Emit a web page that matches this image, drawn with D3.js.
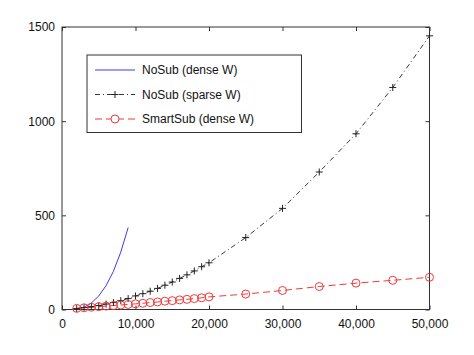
<!DOCTYPE html>
<html><head><meta charset="utf-8">
<script src="https://cdn.jsdelivr.net/npm/d3@7"></script>
<style>
html,body{margin:0;padding:0;background:#fff;}
svg{display:block;font-family:"Liberation Sans",Arial,Helvetica,sans-serif;}
</style></head>
<body><svg id="c" width="474" height="355"></svg>
<script>
// Data
const denseX = [2000,3000,4000,5000,6000,7000,8000,9000];
const denseY = [3,12,35,72,127,203,305,435];
const sparseX = [2000,3000,4000,5000,6000,7000,8000,9000,10000,11000,12000,13000,14000,15000,16000,17000,18000,19000,20000,25000,30000,35000,40000,45000,50000];
const sparseY = [5,10,15,21,29,37,47,58,72,84,97,112,129,146,165,184,205,227,248,382,537,730,933,1179,1453];
const smartX = sparseX;
const smartY = [6,9,12,15,18,21,24,27,30,33,37,40,44,47,51,54,58,62,67,82,101,122,140,155,171];
const xTicks = [0,10000,20000,30000,40000,50000];
const yTicks = [0,500,1000,1500];
const seriesNames = ["NoSub (dense W)","NoSub (sparse W)","SmartSub (dense W)"];

const svg = d3.select("#c");
const L=62, R=429.5, T=27, B=309.5;
const x = d3.scaleLinear().domain([0,50000]).range([L,R]);
const y = d3.scaleLinear().domain([0,1500]).range([B,T]);
const axisCol="#333";

// frame
svg.append("rect").attr("x",L).attr("y",T).attr("width",R-L).attr("height",B-T)
  .attr("fill","none").attr("stroke",axisCol).attr("stroke-width",1);

const fmt = d3.format(",");
const ax = d3.axisBottom(x).tickValues(xTicks).tickFormat(fmt).tickSizeInner(-4).tickSizeOuter(0).tickPadding(10);
const ay = d3.axisLeft(y).tickValues(yTicks).tickFormat(d3.format("d")).tickSizeInner(-4).tickSizeOuter(0).tickPadding(7);
const ax2 = d3.axisTop(x).tickValues(xTicks).tickFormat("").tickSizeInner(-4).tickSizeOuter(0);
const ay2 = d3.axisRight(y).tickValues(yTicks).tickFormat("").tickSizeInner(-4).tickSizeOuter(0);
function style(g){
  g.select(".domain").remove();
  g.selectAll("line").attr("stroke",axisCol);
  g.selectAll("text").attr("fill","#111").style("font-size","12px").style("font-family","'Liberation Sans',Arial,sans-serif");
}
svg.append("g").attr("transform",`translate(0,${B})`).call(ax).call(style);
svg.append("g").attr("transform",`translate(${L},0)`).call(ay).call(style);
svg.append("g").attr("transform",`translate(0,${T})`).call(ax2).call(style);
svg.append("g").attr("transform",`translate(${R},0)`).call(ay2).call(style);

const line = d3.line().x(d=>x(d[0])).y(d=>y(d[1]));
const dense = denseX.map((v,i)=>[v,denseY[i]]);
const sparse = sparseX.map((v,i)=>[v,sparseY[i]]);
const smart = smartX.map((v,i)=>[v,smartY[i]]);

const blue="#3b3bea", black="#222", red="#f03a3a";

svg.append("path").datum(smart).attr("d",line).attr("fill","none").attr("stroke",red).attr("stroke-width",1).attr("stroke-dasharray","7,4");
svg.append("path").datum(sparse).attr("d",line).attr("fill","none").attr("stroke",black).attr("stroke-width",0.9).attr("stroke-dasharray","5,3,1,3");
svg.append("path").datum(dense).attr("d",line).attr("fill","none").attr("stroke",blue).attr("stroke-width",1);

function plus(g,cx,cy,s,col){
  g.append("path").attr("d",`M${cx-s},${cy}H${cx+s}M${cx},${cy-s}V${cy+s}`).attr("stroke",col).attr("stroke-width",1).attr("fill","none");
}
const gp = svg.append("g");
sparse.forEach(d=>plus(gp,x(d[0]),y(d[1]),3.5,black));
svg.append("g").selectAll("circle").data(smart).join("circle")
  .attr("cx",d=>x(d[0])).attr("cy",d=>y(d[1])).attr("r",4).attr("fill","none").attr("stroke",red).attr("stroke-width",1);

// legend
const lg = svg.append("g");
lg.append("rect").attr("x",87).attr("y",55).attr("width",214.5).attr("height",77.5).attr("fill","#fff").attr("stroke",axisCol).attr("stroke-width",1);
const rows=[70,94.5,119];
lg.append("line").attr("x1",95).attr("x2",135).attr("y1",rows[0]).attr("y2",rows[0]).attr("stroke",blue).attr("stroke-width",1);
lg.append("line").attr("x1",95).attr("x2",135).attr("y1",rows[1]).attr("y2",rows[1]).attr("stroke",black).attr("stroke-width",0.9).attr("stroke-dasharray","5,3,1,3");
plus(lg,115,rows[1],3.5,black);
lg.append("line").attr("x1",95).attr("x2",135).attr("y1",rows[2]).attr("y2",rows[2]).attr("stroke",red).attr("stroke-width",1).attr("stroke-dasharray","7,4").attr("stroke-dashoffset",0);
lg.append("circle").attr("cx",115).attr("cy",rows[2]).attr("r",4).attr("fill","#fff").attr("stroke",red);
seriesNames.forEach((n,i)=>{
  lg.append("text").attr("x",142).attr("y",rows[i]+4).text(n).attr("fill","#111").style("font-size","12px");
});
</script></body></html>
